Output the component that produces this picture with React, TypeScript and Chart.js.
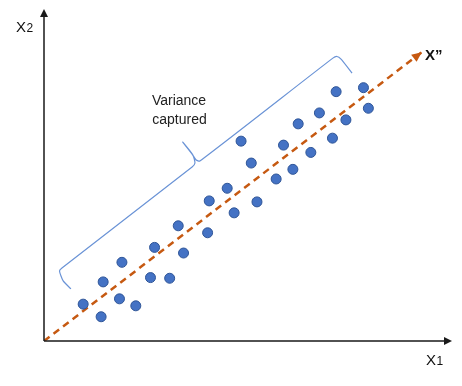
import React, { useEffect, useRef } from "react";
import { Chart, registerables } from "chart.js";

Chart.register(...registerables);

// Scatter observations (x1, x2) in axis units (0..100)
const pointsX = [9.6, 14.0, 14.5, 18.5, 19.1, 22.5, 26.1, 27.1, 30.8, 34.2, 32.9, 40.1, 40.5, 44.9, 46.6, 52.2, 48.3, 50.8, 56.9, 58.7, 61.0, 62.3, 65.4, 67.5, 70.7, 71.6, 74.0, 78.3, 79.5];
const pointsY = [11.1, 7.3, 17.8, 12.7, 23.7, 10.6, 19.1, 28.2, 18.9, 26.5, 34.7, 32.6, 42.2, 46.0, 38.6, 41.9, 60.2, 53.6, 48.8, 59.0, 51.7, 65.4, 56.8, 68.7, 61.1, 75.1, 66.6, 76.3, 70.1];

// Principal direction X'' (from origin to arrow tip)
const pcX = [0, 92.6];
const pcY = [0, 87.0];

// Brace ("variance captured") outline
const braceX = [6.6, 4.7, 3.8, 4.4, 36.3, 37.0, 36.5, 34.0, 36.3, 37.3, 38.2, 70.8, 71.8, 72.8, 75.5];
const braceY = [15.7, 18.1, 21.1, 22.0, 52.4, 53.6, 56.0, 59.9, 56.3, 54.5, 54.2, 85.2, 85.7, 84.9, 80.7];

const xLabel = "X";
const xLabelSub = "1";
const yLabel = "X";
const yLabelSub = "2";
const pcLabel = "X\u201D";
const annotationLines = ["Variance", "captured"];

const FONT = "'Liberation Sans', Arial, sans-serif";

const overlayPlugin = {
  id: "overlay",
  afterDatasetsDraw(chart: any) {
    const { ctx, chartArea, scales } = chart;
    const xs = scales.x;
    const ys = scales.y;
    const left = chartArea.left;
    const bottom = chartArea.bottom;
    const top = chartArea.top;
    const right = chartArea.right;
    ctx.save();
    // axes
    ctx.strokeStyle = "#1a1a1a";
    ctx.fillStyle = "#1a1a1a";
    ctx.lineWidth = 1.5;
    ctx.beginPath();
    ctx.moveTo(left, bottom);
    ctx.lineTo(left, top + 6);
    ctx.moveTo(left, bottom);
    ctx.lineTo(right - 6, bottom);
    ctx.stroke();
    // y arrow
    ctx.beginPath();
    ctx.moveTo(left, top);
    ctx.lineTo(left - 4, top + 8);
    ctx.lineTo(left + 4, top + 8);
    ctx.closePath();
    ctx.fill();
    // x arrow
    ctx.beginPath();
    ctx.moveTo(right, bottom);
    ctx.lineTo(right - 8, bottom - 4);
    ctx.lineTo(right - 8, bottom + 4);
    ctx.closePath();
    ctx.fill();

    // PC arrow head
    const x0 = xs.getPixelForValue(pcX[0]);
    const y0 = ys.getPixelForValue(pcY[0]);
    const x1 = xs.getPixelForValue(pcX[1]);
    const y1 = ys.getPixelForValue(pcY[1]);
    const ang = Math.atan2(y1 - y0, x1 - x0);
    const len = 10;
    const hw = 4.5;
    const bx = x1 - len * Math.cos(ang);
    const by = y1 - len * Math.sin(ang);
    ctx.fillStyle = "#C65911";
    ctx.beginPath();
    ctx.moveTo(x1, y1);
    ctx.lineTo(bx + hw * Math.sin(ang), by - hw * Math.cos(ang));
    ctx.lineTo(bx - hw * Math.sin(ang), by + hw * Math.cos(ang));
    ctx.closePath();
    ctx.fill();

    // labels
    ctx.fillStyle = "#111";
    ctx.textBaseline = "alphabetic";
    ctx.textAlign = "left";
    ctx.font = `15px ${FONT}`;
    ctx.fillText(yLabel, 16, 31.5);
    const wy = ctx.measureText(yLabel).width;
    ctx.font = `12px ${FONT}`;
    ctx.fillText(yLabelSub, 16 + wy + 0.5, 31.5);

    ctx.font = `15px ${FONT}`;
    ctx.fillText(xLabel, 426, 365);
    const wx = ctx.measureText(xLabel).width;
    ctx.font = `12px ${FONT}`;
    ctx.fillText(xLabelSub, 426 + wx + 0.5, 365);

    ctx.font = `bold 15px ${FONT}`;
    ctx.fillText(pcLabel, 425, 59.5);

    ctx.fillStyle = "#222";
    ctx.font = `14px ${FONT}`;
    ctx.textAlign = "center";
    ctx.fillText(annotationLines[0], 179, 105);
    ctx.fillText(annotationLines[1], 179.5, 124);
    ctx.restore();
  },
};

export default function App() {
  const canvasRef = useRef<HTMLCanvasElement | null>(null);
  useEffect(() => {
    if (!canvasRef.current) return;
    const chart = new Chart(canvasRef.current, {
      type: "scatter",
      data: {
        datasets: [
          {
            label: "observations",
            data: pointsX.map((x, i) => ({ x, y: pointsY[i] })),
            backgroundColor: "#4472C4",
            borderColor: "#2F5597",
            borderWidth: 1,
            pointRadius: 5,
            order: 0,
          },
          {
            label: "X''",
            data: pcX.map((x, i) => ({ x, y: pcY[i] })),
            showLine: true,
            borderColor: "#C65911",
            borderWidth: 2.5,
            borderDash: [7, 5],
            pointRadius: 0,
            order: 1,
          },
          {
            label: "brace",
            data: braceX.map((x, i) => ({ x, y: braceY[i] })),
            showLine: true,
            borderColor: "#6A93D6",
            borderWidth: 1.2,
            pointRadius: 0,
            tension: 0.2,
            order: 2,
          },
        ] as any,
      },
      options: {
        animation: false,
        responsive: false,
        maintainAspectRatio: false,
        layout: { padding: { left: 44, right: 10, top: 9, bottom: 45 } },
        plugins: { legend: { display: false }, tooltip: { enabled: false } },
        scales: {
          x: { type: "linear", min: 0, max: 100, display: false },
          y: { type: "linear", min: 0, max: 100, display: false },
        },
      },
      plugins: [overlayPlugin],
    });
    return () => chart.destroy();
  }, []);
  return (
    <div style={{ position: "absolute", left: 0, top: 0, width: 462, height: 386, background: "#fff" }}>
      <canvas ref={canvasRef} width={462} height={386} style={{ display: "block" }} />
    </div>
  );
}
